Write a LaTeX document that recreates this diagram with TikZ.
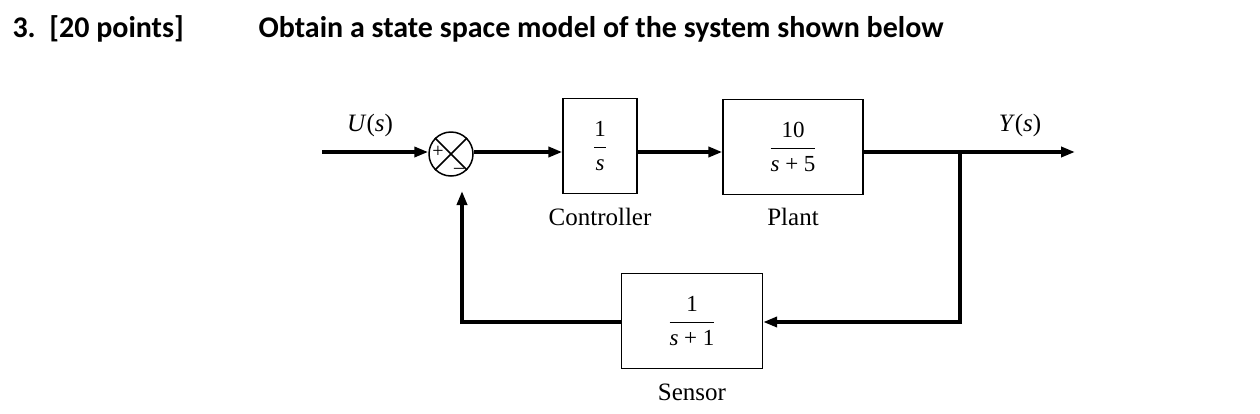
\documentclass[tikz,border=0pt]{standalone}
\usepackage{fontspec}
\usepackage{amsmath}
\setmainfont{Liberation Serif}
\newfontfamily\hdr{Carlito}
\usetikzlibrary{arrows.meta}
\newcommand{\fr}[2]{$\displaystyle\frac{\text{#1}}{\text{#2}}$}
\begin{document}
\begin{tikzpicture}[x=1pt,y=-1pt,
  blk/.style={draw,line width=1.3pt,minimum width=#1,minimum height=95pt,inner sep=0pt},
  sig/.style={line width=4.5pt,-{Triangle[length=14pt,width=10pt]}},
  wire/.style={line width=4.5pt},
  lbl/.style={font=\fontsize{25}{28}\selectfont},
  frc/.style={font=\fontsize{23}{26}\selectfont}]
\useasboundingbox (0,0) rectangle (1260,413);
\node[anchor=west,font=\hdr\bfseries\fontsize{30}{32}\selectfont] (h1) at (9,29) {3.\ \ [20 points]};
\node[anchor=west,font=\hdr\bfseries\fontsize{30}{32}\selectfont] (h2) at (255,29) {Obtain a state space model of the system shown below};
\node[draw,circle,line width=1.5pt,minimum size=44pt,inner sep=0pt] (sum) at (451,154) {};
\draw[line width=1.5pt] (sum.north west)--(sum.south east) (sum.north east)--(sum.south west);
\node[font=\fontsize{20}{20}\selectfont] (plus) at (438,152) {+};
\node[font=\fontsize{20}{20}\selectfont] (minus) at (459,171) {--};
\coordinate (in) at (322,152);
\node[lbl] (U) at (370,125) {\textit{U}(\textit{s})};
\node[blk=74pt,frc] (ctl) at (600,146) {\fr{1}{\textit{s}}};
\node[lbl] (ctll) at (600,217) {Controller};
\node[blk=140pt,frc] (pl) at (793,147) {\fr{10}{\textit{s} + 5}};
\node[lbl] (pll) at (793,217) {Plant};
\node[blk=141pt,frc] (sen) at (692,321) {\fr{1}{\textit{s} + 1}};
\node[lbl] (senl) at (692,392) {Sensor};
\node[lbl] (Y) at (1020,125) {\textit{Y}(\textit{s})};
\coordinate (out) at (1075,152);
\coordinate (br) at (960,152);
\draw[sig] (in) -- (sum.west |- in);
\draw[sig] (sum.east |- in) -- (ctl.west |- in);
\draw[sig] (ctl.east |- in) -- (pl.west |- in);
\draw[sig] (pl.east |- in) -- (out);
\draw[wire] (br) -- (960,322);
\draw[sig] (962,322) -- (sen.east |- 0,322);
\draw[wire] (sen.west |- 0,322) -- (462,322);
\draw[sig] (462,324) -- (462,191);
\end{tikzpicture}
\end{document}
